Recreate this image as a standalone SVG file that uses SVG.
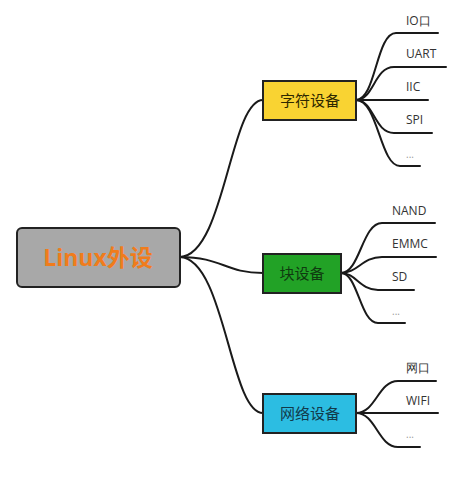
<svg xmlns="http://www.w3.org/2000/svg" width="474" height="482" viewBox="0 0 474 482">
<style>
.node rect{stroke:#222;stroke-width:2}
.conn path{fill:none;stroke:#1a1a1a;stroke-width:2;stroke-linecap:round}
.lbl{font-family:"Open Sans","Liberation Sans",sans-serif;font-size:12px;fill:#333}
.dots{font-size:10px;fill:#999}
.ntxt{font-family:"Noto Sans CJK SC","Noto Sans",sans-serif;font-size:15px;text-anchor:middle}
</style>
<rect width="474" height="482" fill="#fff"/>
<g id="connectors" class="conn">
<path d="M180,257 C225,255 230,100 263,100"/>
<path d="M180,257 C222,257 225,273 263,273"/>
<path d="M180,257 C225,259 230,413 263,413"/>
<path d="M356,100 C376,100 376,33 396,33 L438,33"/>
<path d="M356,100 C374,100 374,67 394,67 L446,67"/>
<path d="M356,100 L428,100"/>
<path d="M356,100 C374,100 374,133 394,133 L432,133"/>
<path d="M356,100 C378,100 380,166 400,166 L420,166"/>
<path d="M341,273 C360,273 362,223 382,223 L435,223"/>
<path d="M341,273 C358,273 362,257 382,257 L436,257"/>
<path d="M341,273 C356,273 360,290 378,290 L414,290"/>
<path d="M341,273 C358,273 360,323 378,323 L405,323"/>
<path d="M356,413 C376,413 378,381 398,381 L436,381"/>
<path d="M356,413 L438,413"/>
<path d="M356,413 C376,413 378,447 398,447 L420,447"/>
</g>
<g id="root" class="node">
<rect x="17" y="228" width="163" height="59" rx="5" fill="#a8a8a8"/>
<text x="98" y="266" font-family="'Open Sans','Noto Sans CJK SC',sans-serif" font-size="23" font-weight="bold" fill="#f07c1c" text-anchor="middle">Linux外设</text>
</g>
<g id="char" class="node">
<rect x="263" y="81" width="93" height="39" fill="#f9d332"/>
<text class="ntxt" x="310" y="106" fill="#2e2800">字符设备</text>
</g>
<g id="block" class="node">
<rect x="263" y="254" width="78" height="39" fill="#22a226"/>
<text class="ntxt" x="302" y="279" fill="#0f3a10">块设备</text>
</g>
<g id="net" class="node">
<rect x="263" y="394" width="93" height="39" fill="#2cbde2"/>
<text class="ntxt" x="310" y="419" fill="#123a4a">网络设备</text>
</g>
<g id="char-children">
<text class="lbl" x="406" y="25">IO口</text>
<text class="lbl" x="406" y="58">UART</text>
<text class="lbl" x="406" y="91">IIC</text>
<text class="lbl" x="406" y="124">SPI</text>
<text class="lbl dots" x="406" y="158">...</text>
</g>
<g id="block-children">
<text class="lbl" x="392" y="215">NAND</text>
<text class="lbl" x="392" y="248">EMMC</text>
<text class="lbl" x="392" y="281">SD</text>
<text class="lbl dots" x="392" y="315">...</text>
</g>
<g id="net-children">
<text class="lbl" x="406" y="372">网口</text>
<text class="lbl" x="406" y="405">WIFI</text>
<text class="lbl dots" x="406" y="438">...</text>
</g>
</svg>
